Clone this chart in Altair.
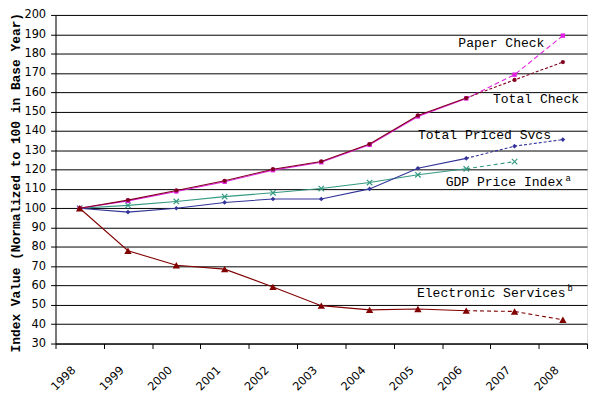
import altair as alt
import pandas as pd

years = ["1998", "1999", "2000", "2001", "2002", "2003", "2004", "2005", "2006", "2007", "2008"]
paper_check = [100, 103.8, 108.7, 113.7, 119.7, 123.8, 132.8, 147.5, 156.8, 169.1, 189.3]
total_check = [100, 104.2, 109.2, 114.2, 120.2, 124.2, 133.2, 148.0, 157.0, 166.4, 175.6]
total_priced = [100, 98.0, 100.0, 103.0, 104.8, 104.8, 110.0, 120.7, 125.8, 132.1, 135.5]
gdp_index = [100, 101.5, 103.5, 106.0, 108.0, 110.2, 113.3, 117.3, 120.4, 124.1, None]
electronic = [100, 78.0, 70.5, 68.5, 59.3, 49.6, 47.4, 47.9, 47.0, 46.6, 42.3]

series = [
    # name, values, color, shape, size, filled, dash
    ("GDP Price Index", gdp_index, "#339980", "M-1,-1L1,1M-1,1L1,-1", 30, False, [4, 3]),
    ("Total Priced Svcs", total_priced, "#333399", "diamond", 22, True, [3, 2]),
    ("Paper Check", paper_check, "#E020E0", "square", 20, True, [5, 3]),
    ("Total Check", total_check, "#800020", "circle", 18, True, [3, 2]),
    ("Electronic Services", electronic, "#800000", "triangle-up", 55, True, [4, 3]),
]

# annotations: text, anchor year, anchor value, dx
annotations = [
    ("Paper Check", "2006", 185.5, -8),
    ("Total Check", "2006", 156.5, 27),
    ("Total Priced Svcs", "2005", 137.7, 0),
    ("GDP Price Index", "2005", 113.6, 28),
    ("Electronic Services", "2005", 55.9, -1),
]
superscripts = [
    ("a", "2005", 115.5, 149),
    ("b", "2005", 58.8, 151),
]

rows = []
for name, vals, *_ in series:
    for y, v in zip(years, vals):
        if v is not None:
            rows.append({"series": name, "year": y, "value": v})
df = pd.DataFrame(rows)

x_scale = alt.Scale(type="band", domain=years, paddingInner=0, paddingOuter=0)
x_axis = alt.Axis(
    labelAngle=-45,
    labelAlign="right",
    labelBaseline="middle",
    labelOffset=-6,
    tickBand="extent",
    grid=False,
    domainColor="black",
    tickColor="black",
    tickSize=5,
    labelPadding=20,
    labelFont="DejaVu Sans",
    labelFontSize=11.5,
    labelColor="black",
    labelOverlap=False,
)
y_scale = alt.Scale(domain=[30, 200], nice=False, zero=False)
y_axis = alt.Axis(
    values=list(range(30, 201, 10)),
    grid=True,
    gridColor="black",
    gridOpacity=1,
    gridWidth=1,
    domainColor="black",
    tickColor="black",
    tickSize=5,
    labelPadding=5,
    labelFont="DejaVu Sans",
    labelFontSize=11.5,
    labelColor="black",
    labelOverlap=False,
    labelFlush=False,
    titleFont="Liberation Mono",
    titleFontWeight="bold",
    titleFontSize=13,
    titleColor="black",
    titleX=-33,
    titleY=169,
)
y_title = "Index Value (Normalized to 100 in Base Year)"

x_enc = alt.X("year:O", title=None, sort=years, scale=x_scale, axis=x_axis)
y_enc = alt.Y("value:Q", title=y_title, scale=y_scale, axis=y_axis)

base = alt.Chart(df)
layers = []
for name, vals, color, shape, size, filled, dash in series:
    sub = base.transform_filter(alt.datum.series == name)
    solid = sub.transform_filter("toNumber(datum.year) <= 2006").mark_line(
        color=color, strokeWidth=1.1
    ).encode(x=x_enc, y=y_enc)
    dashed = sub.transform_filter("toNumber(datum.year) >= 2006").mark_line(
        color=color, strokeWidth=1.1, strokeDash=dash
    ).encode(x=x_enc, y=y_enc)
    if filled:
        pts = sub.mark_point(shape=shape, size=size, filled=True, color=color, opacity=1)
    else:
        pts = sub.mark_point(shape=shape, size=size, filled=False, color=color, strokeWidth=1.2, opacity=1)
    pts = pts.encode(x=x_enc, y=y_enc)
    layers += [solid, dashed, pts]


def label_layer(text, yr, val, dx, size):
    return alt.Chart(pd.DataFrame({"t": [text]})).mark_text(
        align="left", baseline="middle", font="Liberation Mono", fontSize=size,
        color="black", dx=dx
    ).encode(
        x=alt.X(datum=yr, type="ordinal", title=None, scale=x_scale, axis=x_axis),
        y=alt.Y(datum=val, type="quantitative", title=y_title, scale=y_scale, axis=y_axis),
        text="t:N",
    )


for text, yr, val, dx in annotations:
    layers.append(label_layer(text, yr, val, dx, 13.2))
for text, yr, val, dx in superscripts:
    layers.append(label_layer(text, yr, val, dx, 9))

chart = alt.layer(*layers).properties(
    width=537,
    height=332,
    autosize=alt.AutoSizeParams(type="none"),
    padding={"left": 48, "top": 5, "right": 4, "bottom": 52},
).configure_view(stroke="#808080", strokeWidth=1).configure(background="white")

chart.save("out.html", embed_options={"renderer": "svg", "actions": False})
